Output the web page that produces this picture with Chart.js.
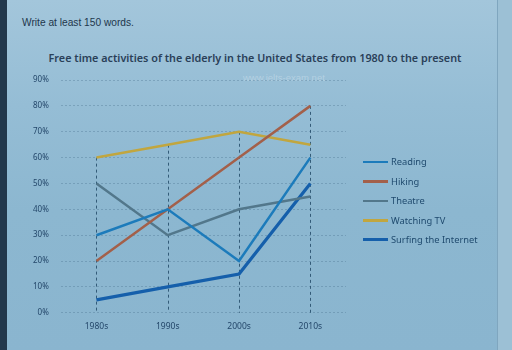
<!DOCTYPE html>
<html>
<head>
<meta charset="utf-8">
<script src="https://cdn.jsdelivr.net/npm/chart.js@4"></script>
<style>
  html, body { margin: 0; padding: 0; width: 512px; height: 350px; overflow: hidden; }
  body { background: linear-gradient(180deg, #a3c6db 0%, #95bdd5 30%, #8cb7d0 60%, #8ab5cf 100%); position: relative; font-family: "Liberation Sans", Arial, sans-serif; }
  #leftEdge { position: absolute; left: 0; top: 0; width: 7px; height: 350px; background: #22384c; }
  #rightEdge { position: absolute; left: 497px; top: 0; width: 15px; height: 350px; background: #9cc0d5; border-left: 1px solid #7fa6bf; }
  #prompt { position: absolute; left: 22px; top: 17px; font-size: 10.2px; color: #22374c; }
  #title { position: absolute; left: 0; width: 510px; top: 50px; text-align: center; font-family: "Noto Sans", sans-serif; font-weight: 600; font-size: 10.8px; color: #2a4058; white-space: nowrap; }
  #watermark { position: absolute; left: 243px; top: 72px; font-family: "Liberation Sans", Arial, sans-serif; font-size: 9.5px; color: rgba(190,215,230,0.75); white-space: nowrap; }
  #wrap { position: absolute; left: 0; top: 0; width: 512px; height: 350px; }
  #legend { position: absolute; left: 363px; top: 152px; font-family: "Noto Sans", sans-serif; font-size: 9.3px; color: #1f4a6e; }
  .li { height: 19.5px; display: flex; align-items: center; white-space: nowrap; }
  .sw { width: 25px; height: 2.5px; margin-right: 3px; }
</style>
</head>
<body>
<div id="leftEdge"></div>
<div id="rightEdge"></div>
<div id="prompt">Write at least 150 words.</div>
<div id="title"></div>
<div id="watermark">www.ielts-exam.net</div>
<div id="wrap"><canvas id="c" width="512" height="350"></canvas></div>
<div id="legend"></div>
<script>
const titleText = "Free time activities of the elderly in the United States from 1980 to the present";
const categories = ["1980s", "1990s", "2000s", "2010s"];
const seriesNames = ["Reading", "Hiking", "Theatre", "Watching TV", "Surfing the Internet"];
const reading = [30, 40, 20, 60];
const hiking = [20, 40, 60, 80];
const theatre = [50, 30, 40, 45];
const watchingTV = [60, 65, 70, 65];
const surfing = [5, 10, 15, 50];
const yTicks = [0, 10, 20, 30, 40, 50, 60, 70, 80, 90];

const seriesValues = [reading, hiking, theatre, watchingTV, surfing];
const seriesColors = ["#1c7bbb", "#a3604a", "#52778b", "#c1a63f", "#155fab"];
const seriesWidths = [2.5, 2.5, 2.5, 2.5, 3.2];

document.getElementById('title').textContent = titleText;

const dropLines = {
  id: 'dropLines',
  beforeDatasetsDraw(chart) {
    const {ctx, scales: {x, y}} = chart;
    ctx.save();
    ctx.strokeStyle = 'rgba(35,75,105,0.85)';
    ctx.lineWidth = 1;
    ctx.setLineDash([3, 3]);
    categories.forEach((c, i) => {
      const maxV = Math.max(...seriesValues.map(s => s[i]));
      const px = Math.round(x.getPixelForValue(i)) + 0.5;
      ctx.beginPath();
      ctx.moveTo(px, y.getPixelForValue(maxV));
      ctx.lineTo(px, y.getPixelForValue(0));
      ctx.stroke();
    });
    ctx.restore();
  }
};

const chart = new Chart(document.getElementById('c'), {
  type: 'line',
  data: {
    labels: categories,
    datasets: seriesNames.map((n, i) => ({
      label: n,
      data: seriesValues[i],
      borderColor: seriesColors[i],
      backgroundColor: seriesColors[i],
      borderWidth: seriesWidths[i],
      pointRadius: 0,
      tension: 0,
      fill: false
    }))
  },
  options: {
    responsive: false,
    animation: false,
    devicePixelRatio: 1,
    layout: { padding: { left: 21, right: 166, top: 80, bottom: 17 } },
    plugins: {
      title: { display: false },
      legend: { display: false },
      tooltip: { enabled: false }
    },
    scales: {
      x: {
        offset: true,
        grid: { display: false },
        border: { display: false },
        ticks: { color: '#24476a', font: { family: 'Noto Sans', size: 8.5 }, padding: 1 }
      },
      y: {
        min: 0, max: 90,
        afterBuildTicks: (s) => { s.ticks = yTicks.map(v => ({ value: v })); },
        grid: { color: 'rgba(60,100,130,0.3)', drawTicks: false },
        border: { display: false, dash: [2, 2] },
        ticks: { color: '#24476a', font: { family: 'Noto Sans', size: 8 }, padding: 12, callback: v => v + '%' }
      }
    }
  },
  plugins: [dropLines]
});

const legendEl = document.getElementById('legend');
chart.data.datasets.forEach(ds => {
  const row = document.createElement('div');
  row.className = 'li';
  const sw = document.createElement('span');
  sw.className = 'sw';
  sw.style.background = ds.borderColor;
  sw.style.height = ds.borderWidth + 'px';
  const tx = document.createElement('span');
  tx.textContent = ds.label;
  row.appendChild(sw);
  row.appendChild(tx);
  legendEl.appendChild(row);
});
</script>
</body>
</html>
